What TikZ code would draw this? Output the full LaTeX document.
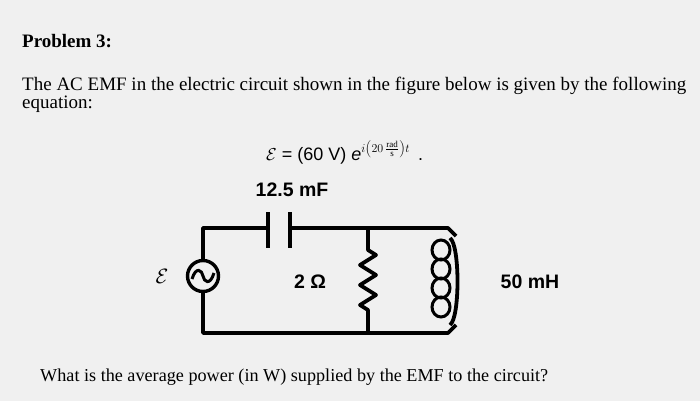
\documentclass[tikz,border=0pt]{standalone}
\usepackage{fontspec}
\setmainfont{Liberation Serif}
\newfontfamily\arialf{Liberation Sans}
\usepackage{graphicx}
\begin{document}
\begin{tikzpicture}[x=1pt,y=-1pt,
  wire/.style={line width=3.8pt,line join=round},
  txt/.style={anchor=base west,inner sep=0pt,font=\fontsize{19}{22}\selectfont},
  lab/.style={inner sep=0pt,font=\arialf\bfseries\fontsize{19.5}{22}\selectfont}]
\fill[gray!12] (0,0) rectangle (700,401);
\useasboundingbox (0,0) rectangle (700,401);
\node[txt,font=\bfseries\fontsize{19}{22}\selectfont] (p) at (22,48) {Problem 3:};
\node[txt] (l1) at (22,90) {\resizebox{664pt}{!}{The AC EMF in the electric circuit shown in the figure below is given by the following}};
\node[txt] (l2) at (22,108) {equation:};
\node[txt,font=\arialf\fontsize{18}{20}\selectfont] (eq) at (266,160) {$\mathcal{E}$ = (60 V) \textit{e}$^{i\left(20\,\frac{\mathrm{rad}}{\mathrm{s}}\right)t}$\, .};
\node[txt] (q) at (40,381) {\resizebox{508pt}{!}{What is the average power (in W) supplied by the EMF to the circuit?}};
% circuit
\coordinate (c1) at (268,228); \coordinate (c2) at (292,228);
\coordinate (rt) at (368,228); \coordinate (rb) at (368,333);
\node[circle,draw,line width=3.4pt,minimum size=31pt,inner sep=0pt] (src) at (203,276) {};
\draw[line width=3pt] (192,279) .. controls (196,266) and (202,270) .. (203,276) .. controls (204,282) and (210,286) .. (214,273);
\draw[wire] (src.north) -- (203,228) -- (c1);
\draw[wire] (src.south) -- (203,333) -- (448,333) -- ++(8,-8);
\draw[wire] (268,212) -- (268,248) (290,212) -- (290,248);
\draw[wire] (c2) -- (448,228) -- ++(8,8);
\draw[wire] (rt) -- (368,250) -- (376,255) -- (360,265) -- (376,275) -- (360,285) -- (376,295) -- (360,305) -- (368,310) -- (rb);
\foreach \yy in {250,269,288,307}
  \draw[line width=3pt] (441,\yy) ellipse (9pt and 10pt);
\draw[wire] (450,238) .. controls (460,245) and (460,318) .. (450,325);
\node[lab] (cl) at (292,190) {12.5 mF};
\node[lab] (rl) at (310,282) {2 Ω};
\node[lab] (ll) at (530,282) {50 mH};
\node[inner sep=0pt,font=\fontsize{20}{22}\selectfont] (el) at (162,276) {$\mathcal{E}$};
\end{tikzpicture}
\end{document}
